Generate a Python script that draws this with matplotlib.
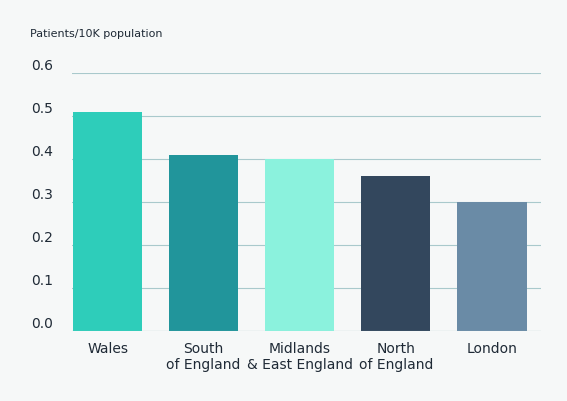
import matplotlib.pyplot as plt

categories = ["Wales", "South\nof England", "Midlands\n& East England", "North\nof England", "London"]
values = [0.51, 0.41, 0.40, 0.36, 0.30]
colors = ["#2ECDBA", "#21959B", "#8BF2DD", "#33475D", "#6A8BA6"]
yticks = [0.0, 0.1, 0.2, 0.3, 0.4, 0.5, 0.6]

bg = "#F6F8F8"
fig = plt.figure(figsize=(5.67, 4.01), dpi=100, facecolor=bg)
ax = fig.add_axes([0.127, 0.1746, 0.827, 0.6434], facecolor=bg)
x = list(range(len(categories)))
ax.bar(x, values, width=0.72, color=colors, zorder=3)
ax.set_ylim(0, 0.6)
ax.set_xlim(-0.37, 4.51)
ax.set_yticks(yticks)
ax.set_yticklabels([])
ax.grid(axis="y", color="#A9C9CC", linewidth=0.8, zorder=0)
for s in ax.spines.values():
    s.set_visible(False)
ax.axhline(0, color="#A9C9CC", linewidth=0.8, zorder=4)
ax.tick_params(length=0)
ax.set_xticks(x)
ax.set_xticklabels(categories, fontsize=10, color="#1F2A36", linespacing=1.2)
ax.tick_params(axis="x", pad=8)
for t in yticks:
    ax.text(-0.795, t, f"{t:.1f}", fontsize=10, color="#1F2A36", va="bottom", ha="left",
            transform=ax.transData)
fig.text(30/567, 1-34/401, "Patients/10K population", fontsize=8, color="#1F2A36", va="center")
fig.savefig("out.png", dpi=100, facecolor=bg)
